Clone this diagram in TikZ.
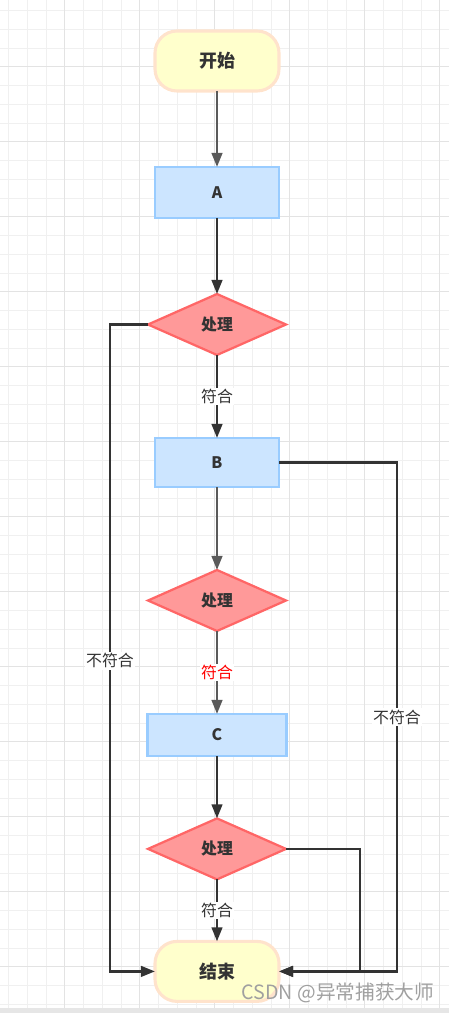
\documentclass[tikz,border=0pt]{standalone}
\usepackage{fontspec}
\usepackage{xcolor}
\usepackage{tikz}
\usetikzlibrary{shapes}
\usetikzlibrary{arrows.meta}
\usetikzlibrary{calc}
\usetikzlibrary{positioning}
\newfontfamily\cjk{Noto Sans CJK SC}
\definecolor{tikz-line}{HTML}{333333}
\definecolor{tikz-gray}{HTML}{5A5A5A}
\definecolor{term-fill}{HTML}{FFFFCC}
\definecolor{term-draw}{HTML}{FFE3CC}
\definecolor{proc-fill}{HTML}{CCE5FF}
\definecolor{proc-draw}{HTML}{99CCFF}
\definecolor{cond-fill}{HTML}{FF9999}
\definecolor{cond-draw}{HTML}{FF6666}
\definecolor{grid-minor}{HTML}{F0F0F0}
\definecolor{grid-major}{HTML}{E3E3E3}
\definecolor{grid-band}{HTML}{E6E6E6}
\definecolor{wm-gray}{HTML}{A0A0A0}
\tikzset{node distance=1.9cm}
\tikzstyle{ln} = [draw=tikz-line, line width=1.8pt, -{Triangle[length=10pt, width=7.5pt]}]
\tikzstyle{ln-gray} = [ln, draw=tikz-gray]
\tikzstyle{lbl} = [fill=white, inner sep=1pt, anchor=center, text=tikz-line, font={\cjk\fontsize{11.3}{13}\selectfont}]
\tikzstyle{grid-ln} = [draw=grid-minor, line width=0.6pt]

\begin{document}
\begin{tikzpicture}[
        term-block/.style={rectangle, rounded corners=0.55cm, draw=term-draw, fill=term-fill, line width=2.2pt, minimum width=3.1cm, minimum height=1.5cm, outer sep=0pt, text=tikz-line, font={\cjk\bfseries\fontsize{12.8}{15}\selectfont}},
        proc-block/.style={rectangle, draw=proc-draw, fill=proc-fill, line width=1.6pt, minimum width=3.1cm, minimum height=1.275cm, outer sep=0pt, text=tikz-line, font={\cjk\bfseries\fontsize{11.3}{13}\selectfont}},
        cond-block/.style={diamond, draw=cond-draw, fill=cond-fill, line width=1.6pt, minimum width=3.45cm, minimum height=1.525cm, inner sep=0pt, outer sep=0pt, text=tikz-line, font={\cjk\bfseries\fontsize{11.3}{13}\selectfont}}
      ]
      \useasboundingbox (0,0) rectangle (11.225,-25.325);
      % background grid
      \foreach \i in {0,...,23} \draw[grid-ln] ({0.2125+\i*0.46875},0) -- ++(0,-25.2);
      \foreach \j in {0,...,53} \draw[grid-ln] (0,{-0.264-\j*0.46875}) -- ++(11.225,0);
      \foreach \i in {3,7,...,23} \draw[grid-ln, draw=grid-major] ({0.2125+\i*0.46875},0) -- ++(0,-25.2);
      \foreach \j in {3,7,...,51} \draw[grid-ln, draw=grid-major] (0,{-0.264-\j*0.46875}) -- ++(11.225,0);
      \fill[grid-band] (0,-25.2) rectangle (11.225,-25.325);

      \node[term-block]        (beg) at (5.425,-1.525)         {开始};
      \node[proc-block]        (a)[below=1.9cm of beg]         {A};
      \node[cond-block]        (chk1)[below=1.9cm of a]        {处理};
      \node[proc-block, minimum height=1.225cm]  (b)[below=2.075cm of chk1]  {B};
      \node[cond-block]        (chk2)[below=2.075cm of b]      {处理};
      \node[proc-block, minimum width=3.475cm, minimum height=1.05cm]  (c)[below=2.075cm of chk2]  {C};
      \node[cond-block]        (chk3)[below=1.56cm of c]       {处理};
      \node[term-block]        (fin)[below=1.55cm of chk3]     {结束};
      \node[text=wm-gray, font={\cjk\fontsize{14}{16}\selectfont}] (wm) at (8.45,-24.825) {CSDN @异常捕获大师};

      \draw[ln-gray]           (beg)            --                         (a);
      \draw[ln]                (a)              --                         (chk1);
      \draw[ln]                (chk1)           -- node[lbl] {符合}        (b);
      \draw[ln-gray]           (b)              --                         (chk2);
      \draw[ln-gray]           (chk2)           -- node[lbl, text=red] {符合} (c);
      \draw[ln]                (c)              --                         (chk3);
      \draw[ln]                (chk3)           -- node[lbl] {符合}        (fin);
      \draw[ln]                (chk1.west)      -- ++(-0.95,0) |- node[lbl, pos=0.26] {不符合} (fin.west);
      \draw[ln]                (b.east)         -- ++(2.95,0) |- node[lbl, pos=0.25] {不符合}  (fin.east);
      \draw[ln]                (chk3.east)      -- ++(1.85,0) |-           (fin.east);
    \end{tikzpicture}
\end{document}
